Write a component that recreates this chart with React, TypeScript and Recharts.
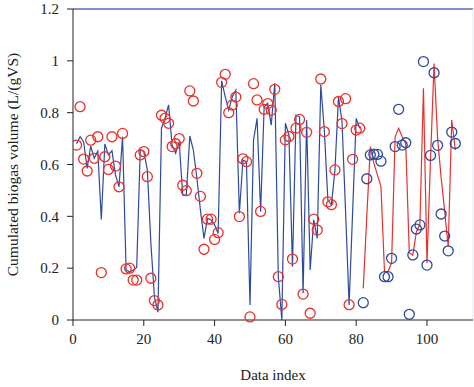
import React from 'react';
import { ComposedChart, Line, XAxis, YAxis, ReferenceLine, Label } from 'recharts';

// Data index 1..81: blue line (model) + red circles (measured)
const blueLineValues = [
  0.68, 0.707, 0.688, 0.585, 0.671, 0.624, 0.652, 0.388, 0.679, 0.637,
  0.653, 0.56, 0.514, 0.707, 0.193, 0.186, 0.193, 0.203, 0.656, 0.65,
  0.579, 0.296, 0.09, 0.03, 0.74, 0.778, 0.83, 0.675, 0.643, 0.688,
  0.482, 0.482, 0.71, 0.656, 0.547, 0.424, 0.315, 0.392, 0.386, 0.367,
  0.334, 0.923, 0.862, 0.81, 0.862, 0.887, 0.412, 0.617, 0.611, 0.058,
  0.694, 0.778, 0.418, 0.823, 0.836, 0.752, 0.913, 0.167, 0.0, 0.759,
  0.714, 0.206, 0.79, 0.784, 0.103, 0.772, 0.193, 0.386, 0.315, 0.907,
  0.733, 0.463, 0.444, 0.579, 0.862, 0.765, 0.42, 0.058, 0.42, 0.778,
  0.74,
];
const redCircleValues = [
  0.675, 0.823, 0.621, 0.575, 0.694, 0.624, 0.707, 0.183, 0.63, 0.581,
  0.707, 0.594, 0.514, 0.72, 0.197, 0.2, 0.154, 0.154, 0.637, 0.65,
  0.553, 0.161, 0.075, 0.058, 0.79, 0.778, 0.759, 0.669, 0.68, 0.7,
  0.52, 0.499, 0.884, 0.845, 0.566, 0.477, 0.273, 0.389, 0.389, 0.311,
  0.337, 0.917, 0.948, 0.8, 0.83, 0.86, 0.399, 0.622, 0.611, 0.012,
  0.912, 0.849, 0.419, 0.813, 0.835, 0.81, 0.89, 0.167, 0.06, 0.695,
  0.708, 0.235, 0.74, 0.774, 0.1, 0.724, 0.026, 0.389, 0.347, 0.93,
  0.727, 0.456, 0.445, 0.579, 0.843, 0.758, 0.854, 0.059, 0.62, 0.733,
  0.74,
];
// Data index 82..108: red line (model) + blue circles (measured)
const redLineValues = [
  0.122, 0.4, 0.669, 0.605, 0.56, 0.515, 0.187, 0.187, 0.22, 0.707,
  0.74, 0.707, 0.68, 0.26, 0.25, 0.34, 0.37, 0.894, 0.219, 0.62,
  0.99, 0.7, 0.55, 0.42, 0.283, 0.772, 0.656,
];
const blueCircleValues = [
  0.067, 0.545, 0.637, 0.64, 0.639, 0.613, 0.167, 0.167, 0.238, 0.669,
  0.813, 0.675, 0.684, 0.022, 0.251, 0.351, 0.367, 0.997, 0.212, 0.635,
  0.954, 0.674, 0.409, 0.324, 0.267, 0.725, 0.681,
];
const xTicks = [0, 20, 40, 60, 80, 100];
const yTicks = [0, 0.2, 0.4, 0.6, 0.8, 1, 1.2];

const firstSegment = blueLineValues.length;
const data: any[] = [];
for (let k = 0; k < firstSegment; k++) {
  data.push({ i: k + 1, blueLine: blueLineValues[k], redCircle: redCircleValues[k] });
}
for (let k = 0; k < redLineValues.length; k++) {
  data.push({ i: firstSegment + k + 1, redLine: redLineValues[k], blueCircle: blueCircleValues[k] });
}

const BLUE = '#2d4a9e';
const RED = '#e8302c';
const FONT = '"Liberation Serif", "Times New Roman", serif';

const makeDot = (color: string) => (props: any) => {
  const { cx, cy, value, index } = props;
  if (value == null || cx == null || cy == null) return <g key={`d-${index}`} />;
  return <circle key={`d-${index}`} cx={cx} cy={cy} r={5} fill="none" stroke={color} strokeWidth={1.3} />;
};

export default function App() {
  return (
    <div style={{ position: 'absolute', left: 0, top: 0, width: 474, height: 387, background: '#fff' }}>
      <ComposedChart width={474} height={387} data={data} margin={{ top: 9, right: 1, bottom: 0, left: 0 }}>
        <XAxis
          type="number"
          dataKey="i"
          domain={[0, 113]}
          ticks={xTicks}
          allowDataOverflow
          height={67}
          tickSize={6}
          tickMargin={7}
          stroke="#222"
          tick={{ fontFamily: FONT, fontSize: 15, fill: '#222' }}
        >
          <Label
            content={(p: any) => {
              const vb = p.viewBox || {};
              return (
                <text x={vb.x + vb.width / 2} y={vb.y + 55} textAnchor="middle" dominantBaseline="central"
                  fontFamily={FONT} fontSize={15} fill="#222">Data index</text>
              );
            }}
          />
        </XAxis>
        <YAxis
          type="number"
          domain={[0, 1.2]}
          ticks={yTicks}
          width={73}
          tickSize={6}
          tickMargin={8}
          stroke="#222"
          tick={{ fontFamily: FONT, fontSize: 15, fill: '#222' }}
        >
          <Label
            content={(p: any) => {
              const vb = p.viewBox || {};
              const cy = vb.y + vb.height / 2;
              return (
                <text x={12} y={cy} transform={`rotate(-90, 12, ${cy})`} textAnchor="middle" dominantBaseline="central"
                  fontFamily={FONT} fontSize={15.5} fill="#222">Cumulated biogas volume (L/(gVS)</text>
              );
            }}
          />
        </YAxis>
        <ReferenceLine y={1.2} stroke="#5466c4" strokeWidth={1.6} />
        <ReferenceLine x={113} stroke="#e2e7f1" strokeWidth={1} />
        <Line dataKey="blueLine" stroke={BLUE} strokeWidth={1.2} dot={false} activeDot={false} isAnimationActive={false} connectNulls={false} />
        <Line dataKey="redLine" stroke={RED} strokeWidth={1.2} dot={false} activeDot={false} isAnimationActive={false} connectNulls={false} />
        <Line dataKey="redCircle" stroke="none" dot={makeDot(RED)} activeDot={false} isAnimationActive={false} />
        <Line dataKey="blueCircle" stroke="none" dot={makeDot(BLUE)} activeDot={false} isAnimationActive={false} />
      </ComposedChart>
    </div>
  );
}
